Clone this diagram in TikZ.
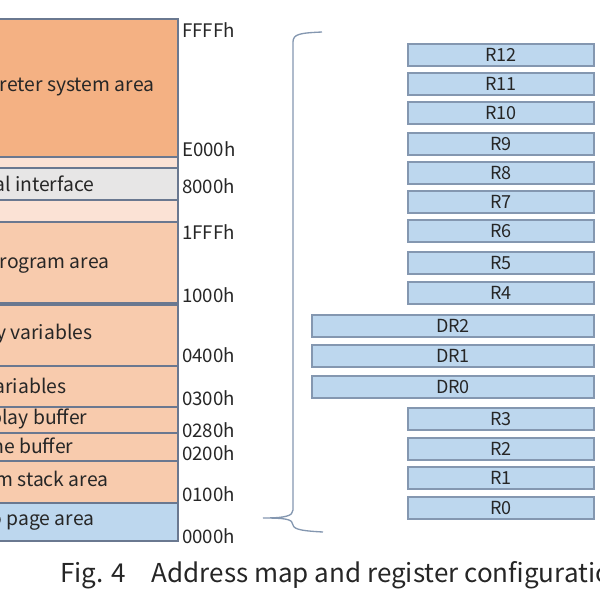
\documentclass[tikz,border=0pt]{standalone}
\usepackage{fontspec}
\setmainfont{Noto Sans CJK JP}
\begin{document}
\begin{tikzpicture}[x=0.75pt,y=-0.75pt,
  mem/.style={draw=memline,line width=0.8pt},
  reg/.style={draw=regline,fill=regfill,line width=0.8pt},
  rtxt/.style={font=\fontsize{13.5}{14}\selectfont,text=black!85},
  ltxt/.style={font=\fontsize{14.5}{15}\selectfont,text=black!85,anchor=east},
  atxt/.style={font=\fontsize{14}{15}\selectfont,text=black!85,anchor=west,inner sep=0pt}]
\definecolor{memline}{HTML}{6A7890}
\definecolor{regline}{HTML}{8497B0}
\definecolor{regfill}{HTML}{BDD7EE}
\definecolor{dark}{HTML}{F4B183}
\definecolor{mid}{HTML}{F8CBAD}
\definecolor{light}{HTML}{FBE2D5}
\definecolor{grayf}{HTML}{E7E6E6}
\useasboundingbox (0,0) rectangle (600,600);
\clip (0,0) rectangle (600,600);
% memory map
\fill[light] (-5,157) rectangle (178,222);
\draw[mem,fill=dark] (-5,19) rectangle (178,157);
\draw[mem,fill=grayf] (-5,168) rectangle (178,200);
\draw[mem] (-5,222) -- (178,222);
\draw[mem] (178,157) -- (178,222);
\draw[mem,fill=mid] (-5,222) rectangle (178,303);
\draw[mem,fill=mid] (-5,305) rectangle (178,366);
\draw[mem,fill=mid] (-5,366) rectangle (178,407);
\draw[mem,fill=mid] (-5,407) rectangle (178,433);
\draw[mem,fill=mid] (-5,433) rectangle (178,461);
\draw[mem,fill=mid] (-5,461) rectangle (178,503);
\draw[mem,fill=regfill] (-5,503) rectangle (178,541);
\node[ltxt] (l1) at (159,87) {Interpreter system area};
\node[ltxt] (l2) at (99,184) {Serial interface};
\node[ltxt] (l3) at (114,264) {User program area};
\node[ltxt] (l4) at (97,334) {Array variables};
\node[ltxt] (l5) at (71,386) {Variables};
\node[ltxt] (l6) at (92,419) {Display buffer};
\node[ltxt] (l7) at (78,446) {Frame buffer};
\node[ltxt] (l8) at (113,481) {System stack area};
\node[ltxt] (l9) at (99,521) {Zero page area};
% addresses
\foreach \t/\y [count=\i] in {FFFFh/30,E000h/149,8000h/186,1FFFh/232,1000h/295,0400h/355,0300h/398,0280h/430,0200h/453,0100h/494,0000h/536}
  \node[atxt] (a\i) at (182,\y) {\t};
% brace
\draw[regline,line width=1pt] (322,32) .. controls (300,33) and (293,34) .. (293,42) -- (293,510)
  .. controls (293,516) and (285,518) .. (263,518)
  .. controls (285,518) and (293,519) .. (293,525)
  .. controls (294,530) and (305,531) .. (323,532);
% registers
\foreach \t/\y [count=\i] in {R12/44,R11/73,R10/102,R9/133,R8/162,R7/191,R6/220,R5/252,R4/282,R3/408,R2/438,R1/467,R0/497}
  \draw[reg] (408,\y) rectangle (594,\y+22) node[rtxt,midway] (r\i) {\t};
\foreach \t/\y [count=\i] in {DR2/315,DR1/345,DR0/376}
  \draw[reg] (312,\y) rectangle (594,\y+22) node[rtxt,midway] (d\i) {\t};
% caption
\node[anchor=west,inner sep=0pt,font=\fontsize{19.5}{21}\selectfont,text=black!85] (cap) at (60,575) {Fig. 4\quad Address map and register configuration};
\end{tikzpicture}
\end{document}
